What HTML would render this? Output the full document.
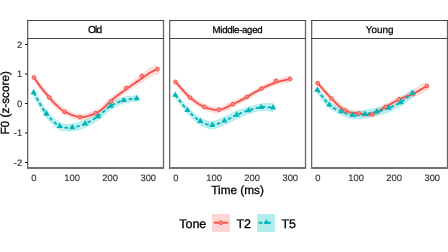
<!DOCTYPE html>
<html><head><meta charset="utf-8"><style>
html,body{margin:0;padding:0;background:#fff;}
body{width:448px;height:252px;overflow:hidden;}
svg{display:block;font-family:"Liberation Sans",Arial,sans-serif;text-rendering:geometricPrecision;}
</style></head><body>
<svg width="448" height="252" viewBox="0 0 448 252">
<path d="M32.67,78.26 L33.04,78.82 L33.52,79.54 L34.08,80.39 L34.71,81.36 L35.40,82.40 L36.13,83.50 L36.90,84.63 L37.68,85.76 L38.46,86.88 L39.24,87.94 L40.02,89.00 L40.84,90.08 L41.70,91.19 L42.57,92.32 L43.46,93.44 L44.35,94.56 L45.23,95.65 L46.10,96.72 L46.94,97.74 L47.74,98.71 L48.50,99.62 L49.23,100.50 L49.95,101.35 L50.65,102.18 L51.34,102.99 L52.04,103.78 L52.75,104.56 L53.47,105.33 L54.22,106.09 L54.97,106.83 L55.69,107.53 L56.37,108.22 L57.05,108.90 L57.76,109.58 L58.51,110.27 L59.32,110.97 L60.21,111.66 L61.19,112.35 L62.27,113.04 L63.45,113.71 L64.73,114.38 L66.13,115.09 L67.66,115.84 L69.28,116.60 L70.98,117.34 L72.74,118.04 L74.54,118.67 L76.37,119.19 L78.21,119.58 L80.05,119.79 L81.89,119.79 L83.73,119.61 L85.55,119.30 L87.33,118.88 L89.07,118.38 L90.74,117.83 L92.33,117.25 L93.83,116.68 L95.20,116.12 L96.46,115.61 L97.64,115.08 L98.73,114.52 L99.71,113.95 L100.60,113.35 L101.41,112.75 L102.16,112.15 L102.86,111.55 L103.53,110.95 L104.21,110.36 L104.94,109.74 L105.74,109.05 L106.55,108.30 L107.34,107.54 L108.11,106.77 L108.87,106.00 L109.62,105.24 L110.35,104.49 L111.08,103.77 L111.80,103.08 L112.51,102.43 L113.26,101.80 L114.01,101.18 L114.77,100.57 L115.54,99.97 L116.30,99.37 L117.08,98.79 L117.85,98.20 L118.62,97.63 L119.39,97.05 L120.16,96.48 L120.91,95.93 L121.66,95.39 L122.41,94.85 L123.15,94.33 L123.90,93.80 L124.65,93.28 L125.40,92.76 L126.16,92.23 L126.93,91.69 L127.69,91.15 L128.49,90.63 L129.28,90.11 L130.07,89.59 L130.86,89.07 L131.66,88.55 L132.45,88.03 L133.24,87.51 L134.03,87.00 L134.81,86.50 L135.60,86.00 L136.37,85.51 L137.15,85.03 L137.93,84.55 L138.72,84.07 L139.51,83.59 L140.30,83.11 L141.09,82.63 L141.90,82.14 L142.70,81.64 L143.52,81.12 L144.36,80.60 L145.19,80.07 L146.02,79.53 L146.83,79.00 L147.63,78.48 L148.42,77.97 L149.20,77.48 L149.96,77.02 L150.71,76.59 L151.44,76.20 L152.20,75.82 L153.05,75.42 L153.94,75.02 L154.86,74.63 L155.78,74.24 L156.66,73.88 L157.49,73.54 L158.24,73.24 L158.90,72.97 L159.42,72.75 L155.58,65.05 L155.14,65.31 L154.57,65.63 L153.87,66.02 L153.07,66.47 L152.20,66.97 L151.28,67.50 L150.33,68.05 L149.38,68.63 L148.45,69.21 L147.56,69.80 L146.71,70.40 L145.89,71.01 L145.09,71.63 L144.30,72.26 L143.53,72.89 L142.78,73.51 L142.04,74.12 L141.31,74.73 L140.59,75.31 L139.88,75.88 L139.15,76.42 L138.41,76.97 L137.67,77.52 L136.93,78.06 L136.18,78.61 L135.43,79.16 L134.68,79.71 L133.92,80.26 L133.17,80.83 L132.40,81.40 L131.65,81.98 L130.89,82.56 L130.13,83.15 L129.38,83.74 L128.62,84.33 L127.87,84.92 L127.13,85.50 L126.38,86.09 L125.64,86.67 L124.91,87.25 L124.15,87.79 L123.41,88.32 L122.66,88.85 L121.91,89.39 L121.16,89.92 L120.40,90.46 L119.64,91.01 L118.88,91.57 L118.11,92.14 L117.34,92.72 L116.57,93.30 L115.80,93.89 L115.02,94.48 L114.24,95.09 L113.45,95.70 L112.66,96.33 L111.87,96.96 L111.08,97.61 L110.28,98.28 L109.49,98.97 L108.67,99.68 L107.87,100.42 L107.08,101.18 L106.31,101.93 L105.55,102.68 L104.80,103.42 L104.06,104.13 L103.32,104.81 L102.60,105.45 L101.86,106.06 L101.10,106.68 L100.38,107.29 L99.71,107.85 L99.08,108.38 L98.45,108.86 L97.81,109.32 L97.14,109.75 L96.39,110.16 L95.54,110.57 L94.54,110.99 L93.34,111.46 L92.01,111.98 L90.59,112.51 L89.11,113.03 L87.60,113.51 L86.06,113.93 L84.55,114.27 L83.07,114.50 L81.66,114.62 L80.35,114.61 L79.03,114.46 L77.59,114.18 L76.07,113.76 L74.50,113.24 L72.92,112.63 L71.35,111.97 L69.82,111.27 L68.36,110.57 L66.99,109.90 L65.75,109.29 L64.69,108.76 L63.79,108.25 L62.98,107.74 L62.24,107.23 L61.55,106.69 L60.88,106.13 L60.21,105.54 L59.52,104.92 L58.79,104.25 L58.03,103.57 L57.28,102.90 L56.56,102.23 L55.86,101.55 L55.17,100.85 L54.47,100.14 L53.77,99.39 L53.06,98.62 L52.32,97.81 L51.56,96.97 L50.76,96.09 L49.93,95.17 L49.06,94.19 L48.16,93.18 L47.25,92.14 L46.32,91.07 L45.40,90.00 L44.50,88.93 L43.61,87.88 L42.77,86.85 L41.96,85.86 L41.18,84.86 L40.38,83.81 L39.57,82.73 L38.78,81.65 L38.02,80.59 L37.30,79.58 L36.63,78.65 L36.04,77.81 L35.54,77.10 L35.13,76.54Z" fill="#F8766D" fill-opacity="0.2" stroke="#F8766D" stroke-opacity="0.35" stroke-width="0.6"/>
<path d="M32.21,93.30 L32.93,94.61 L33.85,96.34 L34.93,98.42 L36.16,100.75 L37.49,103.25 L38.89,105.81 L40.32,108.36 L41.77,110.80 L43.19,113.06 L44.55,115.04 L45.86,116.80 L47.18,118.49 L48.52,120.11 L49.88,121.64 L51.26,123.09 L52.66,124.45 L54.06,125.71 L55.48,126.87 L56.91,127.92 L58.37,128.85 L59.90,129.60 L61.44,130.18 L62.97,130.59 L64.47,130.86 L65.94,131.00 L67.36,131.05 L68.73,131.03 L70.06,130.97 L71.36,130.88 L72.66,130.78 L74.05,130.62 L75.48,130.38 L76.90,130.09 L78.31,129.74 L79.71,129.35 L81.10,128.91 L82.48,128.43 L83.85,127.92 L85.20,127.39 L86.55,126.82 L87.90,126.20 L89.24,125.53 L90.57,124.83 L91.90,124.09 L93.21,123.32 L94.52,122.52 L95.83,121.69 L97.13,120.83 L98.43,119.94 L99.75,119.01 L101.11,117.99 L102.46,116.88 L103.78,115.74 L105.07,114.58 L106.34,113.42 L107.59,112.29 L108.81,111.22 L110.01,110.22 L111.17,109.32 L112.31,108.53 L113.49,107.80 L114.69,107.12 L115.89,106.48 L117.10,105.88 L118.30,105.32 L119.51,104.81 L120.72,104.33 L121.95,103.88 L123.17,103.47 L124.38,103.09 L125.62,102.78 L126.97,102.52 L128.40,102.29 L129.87,102.10 L131.34,101.93 L132.76,101.79 L134.08,101.67 L135.29,101.57 L136.34,101.47 L137.16,101.38 L136.44,95.42 L135.69,95.52 L134.71,95.63 L133.52,95.75 L132.16,95.89 L130.67,96.06 L129.11,96.26 L127.51,96.49 L125.90,96.77 L124.31,97.11 L122.82,97.51 L121.42,97.92 L120.05,98.36 L118.69,98.84 L117.32,99.35 L115.95,99.91 L114.58,100.52 L113.21,101.17 L111.84,101.88 L110.48,102.64 L109.09,103.47 L107.66,104.40 L106.26,105.43 L104.89,106.52 L103.55,107.65 L102.23,108.78 L100.94,109.90 L99.68,110.98 L98.44,112.00 L97.24,112.94 L96.05,113.79 L94.83,114.60 L93.58,115.40 L92.35,116.17 L91.12,116.91 L89.90,117.62 L88.68,118.28 L87.47,118.91 L86.26,119.51 L85.06,120.06 L83.85,120.58 L82.63,121.09 L81.41,121.58 L80.18,122.03 L78.97,122.45 L77.77,122.83 L76.57,123.17 L75.40,123.45 L74.24,123.69 L73.10,123.88 L71.94,124.02 L70.72,124.17 L69.52,124.31 L68.37,124.42 L67.28,124.49 L66.24,124.51 L65.23,124.46 L64.25,124.34 L63.27,124.12 L62.28,123.81 L61.23,123.35 L60.06,122.78 L58.82,122.07 L57.54,121.24 L56.21,120.27 L54.86,119.20 L53.50,118.01 L52.12,116.73 L50.75,115.35 L49.39,113.89 L48.05,112.36 L46.69,110.62 L45.24,108.57 L43.74,106.28 L42.22,103.86 L40.72,101.40 L39.29,99.00 L37.97,96.74 L36.78,94.71 L35.77,92.99 L34.99,91.70Z" fill="#00BFC4" fill-opacity="0.24" stroke="#00BFC4" stroke-opacity="0.35" stroke-width="0.6"/>
<path d="M174.48,82.90 L175.32,83.88 L176.39,85.17 L177.67,86.71 L179.11,88.45 L180.67,90.31 L182.30,92.22 L183.97,94.12 L185.63,95.94 L187.25,97.63 L188.78,99.10 L190.23,100.40 L191.68,101.63 L193.12,102.79 L194.57,103.89 L196.03,104.94 L197.49,105.91 L198.96,106.83 L200.44,107.68 L201.92,108.47 L203.41,109.20 L204.92,109.82 L206.43,110.40 L207.96,110.92 L209.49,111.38 L211.05,111.77 L212.61,112.08 L214.19,112.30 L215.78,112.44 L217.38,112.47 L219.01,112.39 L220.65,112.13 L222.26,111.73 L223.82,111.22 L225.34,110.63 L226.81,109.97 L228.26,109.27 L229.68,108.55 L231.07,107.84 L232.44,107.14 L233.82,106.47 L235.22,105.79 L236.64,105.07 L238.05,104.34 L239.46,103.58 L240.86,102.82 L242.27,102.04 L243.67,101.25 L245.08,100.45 L246.49,99.65 L247.91,98.84 L249.37,98.02 L250.83,97.17 L252.30,96.30 L253.76,95.42 L255.22,94.55 L256.68,93.68 L258.13,92.83 L259.56,92.01 L260.99,91.23 L262.40,90.49 L263.84,89.81 L265.28,89.14 L266.72,88.50 L268.15,87.88 L269.58,87.28 L271.01,86.70 L272.42,86.15 L273.84,85.63 L275.24,85.14 L276.64,84.68 L278.09,84.29 L279.64,83.92 L281.26,83.57 L282.90,83.24 L284.51,82.94 L286.07,82.66 L287.51,82.41 L288.81,82.18 L289.93,81.98 L290.80,81.82 L289.40,75.98 L288.59,76.22 L287.54,76.51 L286.27,76.86 L284.84,77.25 L283.29,77.69 L281.65,78.16 L279.99,78.66 L278.32,79.19 L276.70,79.75 L275.16,80.32 L273.69,80.87 L272.24,81.45 L270.78,82.05 L269.32,82.68 L267.87,83.33 L266.41,84.01 L264.96,84.71 L263.51,85.42 L262.06,86.16 L260.60,86.91 L259.11,87.67 L257.61,88.47 L256.11,89.30 L254.62,90.15 L253.14,91.02 L251.66,91.88 L250.20,92.73 L248.75,93.57 L247.31,94.38 L245.89,95.16 L244.45,95.91 L243.02,96.65 L241.59,97.39 L240.17,98.12 L238.77,98.83 L237.37,99.53 L235.97,100.21 L234.58,100.87 L233.19,101.50 L231.78,102.13 L230.35,102.78 L228.91,103.46 L227.50,104.14 L226.12,104.80 L224.77,105.41 L223.44,105.96 L222.15,106.42 L220.90,106.80 L219.69,107.06 L218.49,107.21 L217.27,107.29 L216.02,107.28 L214.74,107.19 L213.45,107.03 L212.13,106.78 L210.81,106.47 L209.47,106.09 L208.11,105.65 L206.75,105.15 L205.39,104.60 L204.01,104.04 L202.64,103.42 L201.26,102.73 L199.88,101.98 L198.49,101.16 L197.09,100.28 L195.68,99.33 L194.27,98.32 L192.84,97.24 L191.42,96.10 L189.94,94.81 L188.33,93.29 L186.65,91.61 L184.93,89.83 L183.24,88.03 L181.62,86.26 L180.11,84.60 L178.76,83.11 L177.61,81.85 L176.72,80.90Z" fill="#F8766D" fill-opacity="0.2" stroke="#F8766D" stroke-opacity="0.35" stroke-width="0.6"/>
<path d="M174.12,95.92 L174.81,96.86 L175.70,98.08 L176.76,99.55 L177.95,101.20 L179.24,102.96 L180.60,104.79 L181.99,106.62 L183.38,108.40 L184.74,110.07 L186.04,111.57 L187.26,112.97 L188.49,114.35 L189.74,115.69 L191.00,117.01 L192.27,118.28 L193.55,119.51 L194.84,120.68 L196.13,121.78 L197.44,122.81 L198.73,123.76 L200.03,124.59 L201.31,125.35 L202.60,126.06 L203.91,126.70 L205.24,127.28 L206.60,127.77 L207.99,128.18 L209.42,128.50 L210.87,128.70 L212.40,128.80 L213.98,128.68 L215.54,128.39 L217.02,127.98 L218.44,127.48 L219.80,126.93 L221.11,126.34 L222.38,125.75 L223.60,125.16 L224.77,124.62 L225.95,124.10 L227.20,123.53 L228.48,122.91 L229.74,122.27 L230.99,121.62 L232.22,120.97 L233.42,120.33 L234.61,119.71 L235.78,119.11 L236.93,118.54 L238.07,118.01 L239.22,117.50 L240.37,116.99 L241.50,116.50 L242.63,116.02 L243.76,115.56 L244.88,115.11 L246.01,114.68 L247.14,114.26 L248.29,113.85 L249.47,113.45 L250.69,113.07 L251.94,112.68 L253.19,112.30 L254.43,111.93 L255.68,111.58 L256.90,111.26 L258.11,110.98 L259.30,110.73 L260.45,110.53 L261.54,110.38 L262.66,110.38 L263.86,110.43 L265.12,110.54 L266.42,110.68 L267.70,110.85 L268.94,111.02 L270.11,111.20 L271.17,111.37 L272.12,111.50 L272.87,111.59 L273.33,103.61 L272.67,103.62 L271.82,103.61 L270.75,103.59 L269.53,103.57 L268.19,103.55 L266.76,103.56 L265.28,103.60 L263.79,103.68 L262.30,103.82 L260.86,104.02 L259.47,104.21 L258.09,104.45 L256.73,104.73 L255.36,105.05 L254.01,105.40 L252.67,105.78 L251.35,106.17 L250.05,106.56 L248.78,106.96 L247.53,107.35 L246.28,107.73 L245.03,108.13 L243.81,108.54 L242.59,108.96 L241.38,109.40 L240.18,109.85 L238.98,110.31 L237.78,110.79 L236.57,111.28 L235.33,111.79 L234.06,112.34 L232.79,112.92 L231.52,113.52 L230.27,114.13 L229.03,114.74 L227.81,115.34 L226.60,115.92 L225.41,116.48 L224.25,117.00 L223.05,117.50 L221.79,118.06 L220.52,118.66 L219.29,119.24 L218.11,119.80 L216.97,120.31 L215.89,120.75 L214.87,121.11 L213.92,121.37 L213.04,121.54 L212.20,121.60 L211.32,121.64 L210.38,121.60 L209.43,121.49 L208.44,121.31 L207.43,121.05 L206.38,120.71 L205.30,120.30 L204.19,119.81 L203.04,119.26 L201.87,118.64 L200.66,117.99 L199.43,117.25 L198.16,116.42 L196.87,115.50 L195.56,114.52 L194.23,113.47 L192.91,112.36 L191.58,111.22 L190.26,110.03 L188.96,108.83 L187.66,107.49 L186.27,105.97 L184.83,104.32 L183.38,102.59 L181.96,100.86 L180.59,99.18 L179.33,97.60 L178.20,96.18 L177.23,94.99 L176.48,94.08Z" fill="#00BFC4" fill-opacity="0.24" stroke="#00BFC4" stroke-opacity="0.35" stroke-width="0.6"/>
<path d="M316.48,84.09 L317.28,85.05 L318.31,86.29 L319.54,87.78 L320.92,89.45 L322.41,91.24 L323.97,93.10 L325.56,94.96 L327.13,96.77 L328.65,98.47 L330.07,100.00 L331.41,101.42 L332.73,102.83 L334.05,104.24 L335.38,105.63 L336.73,106.98 L338.08,108.29 L339.46,109.53 L340.87,110.69 L342.32,111.75 L343.81,112.70 L345.36,113.47 L346.92,114.07 L348.46,114.54 L349.98,114.90 L351.47,115.16 L352.93,115.36 L354.34,115.52 L355.72,115.66 L357.05,115.81 L358.34,115.98 L359.64,116.16 L360.97,116.38 L362.34,116.61 L363.73,116.83 L365.16,117.02 L366.62,117.17 L368.12,117.23 L369.65,117.20 L371.21,117.04 L372.79,116.73 L374.37,116.24 L375.89,115.60 L377.36,114.85 L378.78,114.03 L380.17,113.16 L381.53,112.26 L382.86,111.37 L384.16,110.49 L385.45,109.67 L386.74,108.90 L388.08,108.16 L389.45,107.39 L390.81,106.62 L392.17,105.85 L393.52,105.09 L394.87,104.34 L396.21,103.61 L397.56,102.90 L398.90,102.21 L400.23,101.57 L401.59,101.01 L402.96,100.49 L404.35,99.99 L405.77,99.51 L407.21,99.03 L408.66,98.55 L410.13,98.04 L411.61,97.51 L413.11,96.93 L414.60,96.30 L416.16,95.64 L417.79,94.91 L419.46,94.13 L421.13,93.33 L422.76,92.53 L424.31,91.76 L425.74,91.04 L427.01,90.40 L428.06,89.87 L428.88,89.47 L424.92,82.53 L424.12,83.05 L423.11,83.72 L421.93,84.52 L420.62,85.40 L419.20,86.35 L417.73,87.32 L416.23,88.30 L414.75,89.24 L413.32,90.12 L412.00,90.90 L410.71,91.56 L409.40,92.19 L408.05,92.80 L406.69,93.39 L405.29,93.98 L403.89,94.58 L402.46,95.19 L401.03,95.83 L399.60,96.51 L398.17,97.23 L396.74,97.95 L395.33,98.69 L393.94,99.45 L392.56,100.22 L391.19,101.01 L389.84,101.80 L388.49,102.58 L387.15,103.36 L385.82,104.13 L384.46,104.90 L383.06,105.69 L381.65,106.54 L380.28,107.41 L378.93,108.27 L377.62,109.09 L376.33,109.86 L375.08,110.53 L373.87,111.11 L372.72,111.56 L371.61,111.87 L370.50,112.07 L369.37,112.17 L368.21,112.17 L367.01,112.10 L365.78,111.96 L364.51,111.77 L363.20,111.55 L361.86,111.30 L360.47,111.05 L359.06,110.82 L357.63,110.66 L356.22,110.52 L354.86,110.40 L353.52,110.27 L352.23,110.12 L350.97,109.91 L349.74,109.65 L348.54,109.30 L347.36,108.86 L346.19,108.30 L344.97,107.63 L343.72,106.82 L342.43,105.88 L341.13,104.84 L339.80,103.69 L338.45,102.47 L337.09,101.20 L335.72,99.88 L334.32,98.53 L332.93,97.20 L331.47,95.78 L329.91,94.20 L328.28,92.50 L326.63,90.74 L325.00,88.97 L323.43,87.26 L321.98,85.67 L320.68,84.24 L319.58,83.03 L318.72,82.11Z" fill="#F8766D" fill-opacity="0.2" stroke="#F8766D" stroke-opacity="0.35" stroke-width="0.6"/>
<path d="M315.88,91.00 L316.55,91.93 L317.42,93.18 L318.46,94.69 L319.64,96.38 L320.91,98.19 L322.25,100.04 L323.63,101.87 L325.01,103.61 L326.37,105.20 L327.68,106.57 L328.96,107.74 L330.24,108.76 L331.52,109.67 L332.80,110.48 L334.06,111.21 L335.30,111.87 L336.52,112.47 L337.71,113.05 L338.86,113.60 L340.01,114.15 L341.17,114.73 L342.36,115.30 L343.57,115.85 L344.79,116.39 L346.03,116.90 L347.29,117.38 L348.57,117.81 L349.88,118.20 L351.22,118.52 L352.60,118.78 L354.01,118.91 L355.41,118.95 L356.78,118.92 L358.11,118.84 L359.42,118.71 L360.69,118.55 L361.93,118.37 L363.13,118.19 L364.31,118.02 L365.48,117.86 L366.68,117.66 L367.91,117.45 L369.13,117.23 L370.36,116.99 L371.59,116.74 L372.81,116.47 L374.04,116.20 L375.26,115.91 L376.49,115.60 L377.71,115.29 L378.93,114.95 L380.15,114.61 L381.37,114.25 L382.61,113.88 L383.85,113.50 L385.09,113.09 L386.33,112.67 L387.58,112.22 L388.83,111.75 L390.06,111.27 L391.26,110.76 L392.46,110.25 L393.66,109.73 L394.87,109.18 L396.09,108.60 L397.32,107.99 L398.56,107.35 L399.80,106.65 L401.05,105.91 L402.32,105.10 L403.66,104.18 L405.06,103.15 L406.48,102.04 L407.90,100.89 L409.29,99.74 L410.61,98.63 L411.83,97.59 L412.90,96.67 L413.79,95.91 L414.48,95.34 L410.72,90.66 L409.98,91.25 L409.03,92.01 L407.93,92.91 L406.70,93.90 L405.39,94.96 L404.02,96.03 L402.65,97.08 L401.30,98.07 L400.04,98.96 L398.88,99.70 L397.78,100.34 L396.66,100.94 L395.55,101.49 L394.43,102.02 L393.31,102.51 L392.18,102.98 L391.03,103.43 L389.88,103.87 L388.71,104.31 L387.54,104.73 L386.39,105.15 L385.24,105.54 L384.09,105.91 L382.93,106.27 L381.77,106.60 L380.60,106.93 L379.42,107.24 L378.25,107.54 L377.07,107.83 L375.89,108.11 L374.72,108.39 L373.57,108.66 L372.41,108.92 L371.25,109.16 L370.10,109.39 L368.95,109.60 L367.80,109.81 L366.65,110.00 L365.50,110.17 L364.32,110.34 L363.11,110.55 L361.90,110.77 L360.73,110.99 L359.58,111.19 L358.47,111.37 L357.39,111.51 L356.35,111.62 L355.34,111.67 L354.36,111.68 L353.40,111.62 L352.41,111.54 L351.39,111.40 L350.34,111.20 L349.27,110.96 L348.17,110.66 L347.06,110.32 L345.92,109.95 L344.77,109.54 L343.59,109.10 L342.39,108.65 L341.16,108.18 L339.95,107.74 L338.76,107.30 L337.61,106.85 L336.47,106.38 L335.35,105.86 L334.24,105.28 L333.13,104.63 L332.02,103.88 L330.92,103.03 L329.73,101.96 L328.42,100.62 L327.03,99.07 L325.61,97.41 L324.20,95.69 L322.84,93.99 L321.58,92.39 L320.45,90.94 L319.48,89.72 L318.72,88.80Z" fill="#00BFC4" fill-opacity="0.24" stroke="#00BFC4" stroke-opacity="0.35" stroke-width="0.6"/>
<path d="M33.90,77.40 L34.29,77.96 L34.78,78.68 L35.36,79.52 L36.00,80.47 L36.71,81.49 L37.46,82.57 L38.24,83.68 L39.03,84.78 L39.82,85.87 L40.60,86.90 L41.39,87.92 L42.23,88.98 L43.10,90.06 L43.99,91.16 L44.89,92.26 L45.80,93.35 L46.70,94.42 L47.58,95.46 L48.43,96.45 L49.25,97.40 L50.03,98.30 L50.78,99.16 L51.50,99.99 L52.21,100.79 L52.91,101.56 L53.61,102.32 L54.31,103.06 L55.02,103.78 L55.75,104.49 L56.50,105.20 L57.24,105.89 L57.95,106.57 L58.63,107.22 L59.32,107.86 L60.03,108.48 L60.78,109.10 L61.59,109.70 L62.49,110.30 L63.48,110.90 L64.60,111.50 L65.86,112.14 L67.24,112.83 L68.74,113.56 L70.31,114.28 L71.95,114.99 L73.62,115.64 L75.31,116.21 L76.98,116.68 L78.62,117.02 L80.20,117.20 L81.78,117.21 L83.40,117.06 L85.05,116.78 L86.70,116.40 L88.33,115.94 L89.93,115.43 L91.46,114.88 L92.92,114.33 L94.27,113.79 L95.50,113.30 L96.59,112.83 L97.56,112.34 L98.42,111.85 L99.21,111.33 L99.93,110.81 L100.62,110.26 L101.29,109.70 L101.96,109.12 L102.66,108.52 L103.40,107.90 L104.17,107.25 L104.94,106.56 L105.70,105.84 L106.45,105.10 L107.21,104.34 L107.96,103.59 L108.72,102.84 L109.48,102.10 L110.24,101.38 L111.00,100.70 L111.77,100.04 L112.54,99.40 L113.32,98.77 L114.10,98.15 L114.88,97.54 L115.66,96.94 L116.43,96.34 L117.21,95.76 L117.98,95.18 L118.75,94.60 L119.51,94.03 L120.27,93.48 L121.02,92.93 L121.78,92.39 L122.53,91.86 L123.28,91.33 L124.03,90.81 L124.78,90.28 L125.54,89.74 L126.30,89.20 L127.06,88.65 L127.83,88.10 L128.60,87.55 L129.37,86.99 L130.14,86.44 L130.91,85.88 L131.69,85.33 L132.46,84.78 L133.23,84.24 L134.00,83.70 L134.77,83.17 L135.54,82.65 L136.31,82.13 L137.08,81.61 L137.84,81.10 L138.61,80.59 L139.38,80.07 L140.15,79.55 L140.93,79.03 L141.70,78.50 L142.48,77.96 L143.25,77.40 L144.03,76.83 L144.80,76.25 L145.58,75.68 L146.36,75.11 L147.14,74.56 L147.93,74.02 L148.71,73.49 L149.50,73.00 L150.33,72.51 L151.22,72.02 L152.14,71.54 L153.07,71.06 L153.99,70.61 L154.87,70.18 L155.68,69.78 L156.41,69.44 L157.02,69.14 L157.50,68.90" fill="none" stroke="#F5514B" stroke-width="1.9" stroke-linejoin="round"/>
<path d="M33.60,92.50 L34.35,93.80 L35.31,95.52 L36.45,97.58 L37.73,99.88 L39.11,102.33 L40.55,104.84 L42.03,107.32 L43.51,109.68 L44.94,111.84 L46.30,113.70 L47.62,115.35 L48.96,116.92 L50.32,118.42 L51.69,119.83 L53.06,121.14 L54.43,122.36 L55.80,123.47 L57.15,124.47 L58.49,125.35 L59.80,126.10 L61.09,126.70 L62.36,127.15 L63.61,127.46 L64.85,127.66 L66.09,127.76 L67.32,127.77 L68.55,127.73 L69.79,127.64 L71.04,127.52 L72.30,127.40 L73.57,127.25 L74.86,127.04 L76.15,126.77 L77.44,126.45 L78.74,126.09 L80.04,125.68 L81.33,125.23 L82.63,124.75 L83.92,124.24 L85.20,123.70 L86.48,123.13 L87.75,122.52 L89.02,121.87 L90.29,121.19 L91.56,120.47 L92.82,119.72 L94.09,118.93 L95.36,118.12 L96.63,117.27 L97.90,116.40 L99.18,115.46 L100.45,114.44 L101.73,113.36 L103.01,112.24 L104.29,111.10 L105.57,109.97 L106.85,108.87 L108.13,107.83 L109.42,106.86 L110.70,106.00 L111.98,105.22 L113.27,104.50 L114.55,103.82 L115.84,103.20 L117.12,102.62 L118.41,102.08 L119.70,101.58 L121.00,101.12 L122.30,100.69 L123.60,100.30 L124.97,99.95 L126.43,99.65 L127.95,99.39 L129.49,99.18 L131.01,98.99 L132.46,98.84 L133.80,98.71 L135.00,98.60 L136.01,98.50 L136.80,98.40" fill="none" stroke="#00B5BA" stroke-width="1.9" stroke-dasharray="3.6 2.4" stroke-linejoin="round"/>
<path d="M175.60,81.90 L176.46,82.86 L177.58,84.14 L178.89,85.66 L180.37,87.36 L181.96,89.17 L183.62,91.03 L185.31,92.87 L186.98,94.62 L188.59,96.22 L190.10,97.60 L191.54,98.82 L192.97,99.97 L194.40,101.06 L195.83,102.09 L197.26,103.05 L198.69,103.95 L200.11,104.78 L201.54,105.55 L202.97,106.26 L204.40,106.90 L205.83,107.49 L207.27,108.02 L208.71,108.50 L210.15,108.92 L211.59,109.28 L213.03,109.55 L214.47,109.75 L215.90,109.86 L217.33,109.88 L218.75,109.80 L220.17,109.60 L221.58,109.27 L222.99,108.82 L224.39,108.29 L225.79,107.69 L227.19,107.03 L228.59,106.35 L229.99,105.65 L231.39,104.96 L232.80,104.30 L234.21,103.65 L235.61,102.97 L237.01,102.27 L238.41,101.56 L239.82,100.82 L241.22,100.08 L242.63,99.32 L244.05,98.55 L245.47,97.78 L246.90,97.00 L248.34,96.20 L249.79,95.37 L251.25,94.52 L252.71,93.65 L254.18,92.78 L255.65,91.92 L257.12,91.07 L258.58,90.24 L260.05,89.45 L261.50,88.70 L262.95,87.98 L264.40,87.28 L265.84,86.60 L267.28,85.94 L268.72,85.31 L270.16,84.69 L271.60,84.10 L273.04,83.54 L274.47,83.01 L275.90,82.50 L277.39,82.02 L278.98,81.56 L280.62,81.12 L282.28,80.70 L283.90,80.31 L285.45,79.96 L286.89,79.63 L288.17,79.35 L289.26,79.10 L290.10,78.90" fill="none" stroke="#F5514B" stroke-width="1.9" stroke-linejoin="round"/>
<path d="M175.30,95.00 L176.02,95.92 L176.95,97.13 L178.04,98.58 L179.27,100.19 L180.60,101.91 L181.99,103.69 L183.41,105.47 L184.83,107.19 L186.20,108.78 L187.50,110.20 L188.76,111.50 L190.03,112.78 L191.32,114.03 L192.62,115.24 L193.91,116.40 L195.21,117.51 L196.50,118.55 L197.78,119.52 L199.05,120.40 L200.30,121.20 L201.53,121.92 L202.75,122.58 L203.95,123.18 L205.15,123.71 L206.34,124.16 L207.52,124.54 L208.71,124.84 L209.90,125.05 L211.10,125.17 L212.30,125.20 L213.51,125.11 L214.73,124.88 L215.95,124.54 L217.17,124.12 L218.39,123.62 L219.61,123.07 L220.83,122.49 L222.06,121.91 L223.28,121.34 L224.50,120.80 L225.72,120.26 L226.95,119.69 L228.17,119.10 L229.40,118.48 L230.62,117.86 L231.85,117.23 L233.07,116.61 L234.29,116.01 L235.50,115.44 L236.70,114.90 L237.89,114.39 L239.07,113.89 L240.24,113.41 L241.41,112.94 L242.57,112.48 L243.73,112.04 L244.91,111.61 L246.09,111.19 L247.29,110.79 L248.50,110.40 L249.74,110.01 L251.00,109.62 L252.27,109.23 L253.55,108.85 L254.84,108.49 L256.13,108.16 L257.42,107.85 L258.70,107.59 L259.96,107.37 L261.20,107.20 L262.48,107.10 L263.82,107.06 L265.20,107.07 L266.59,107.12 L267.94,107.20 L269.24,107.30 L270.43,107.40 L271.49,107.49 L272.40,107.56 L273.10,107.60" fill="none" stroke="#00B5BA" stroke-width="1.9" stroke-dasharray="3.6 2.4" stroke-linejoin="round"/>
<path d="M317.60,83.10 L318.43,84.04 L319.50,85.27 L320.76,86.72 L322.18,88.36 L323.71,90.11 L325.30,91.92 L326.92,93.73 L328.52,95.48 L330.06,97.13 L331.50,98.60 L332.87,99.98 L334.22,101.35 L335.57,102.72 L336.92,104.05 L338.26,105.34 L339.60,106.56 L340.95,107.70 L342.29,108.75 L343.64,109.69 L345.00,110.50 L346.36,111.16 L347.73,111.69 L349.10,112.09 L350.48,112.40 L351.85,112.64 L353.22,112.82 L354.60,112.96 L355.97,113.09 L357.34,113.23 L358.70,113.40 L360.06,113.61 L361.41,113.84 L362.77,114.08 L364.12,114.30 L365.47,114.49 L366.82,114.63 L368.16,114.70 L369.51,114.68 L370.85,114.56 L372.20,114.30 L373.54,113.90 L374.88,113.35 L376.22,112.69 L377.56,111.94 L378.89,111.12 L380.23,110.27 L381.57,109.39 L382.91,108.52 L384.25,107.68 L385.60,106.90 L386.95,106.15 L388.30,105.38 L389.65,104.60 L391.00,103.83 L392.36,103.05 L393.71,102.28 L395.08,101.53 L396.44,100.79 L397.82,100.08 L399.20,99.40 L400.59,98.76 L402.00,98.16 L403.41,97.59 L404.83,97.04 L406.25,96.51 L407.67,95.97 L409.09,95.42 L410.50,94.85 L411.91,94.25 L413.30,93.60 L414.74,92.88 L416.27,92.07 L417.85,91.21 L419.43,90.32 L420.98,89.44 L422.46,88.58 L423.84,87.78 L425.06,87.06 L426.09,86.46 L426.90,86.00" fill="none" stroke="#F5514B" stroke-width="1.9" stroke-linejoin="round"/>
<path d="M317.30,89.90 L318.01,90.82 L318.93,92.06 L320.02,93.54 L321.24,95.19 L322.56,96.94 L323.93,98.72 L325.33,100.47 L326.71,102.11 L328.05,103.58 L329.30,104.80 L330.49,105.81 L331.69,106.70 L332.88,107.48 L334.07,108.17 L335.26,108.79 L336.45,109.36 L337.64,109.89 L338.83,110.39 L340.01,110.89 L341.20,111.40 L342.38,111.92 L343.56,112.42 L344.74,112.90 L345.92,113.36 L347.10,113.78 L348.28,114.17 L349.46,114.51 L350.64,114.80 L351.82,115.03 L353.00,115.20 L354.19,115.29 L355.37,115.31 L356.56,115.27 L357.75,115.18 L358.94,115.04 L360.14,114.87 L361.33,114.68 L362.52,114.48 L363.71,114.28 L364.90,114.10 L366.09,113.92 L367.28,113.72 L368.47,113.52 L369.66,113.30 L370.84,113.06 L372.03,112.82 L373.22,112.56 L374.41,112.28 L375.61,112.00 L376.80,111.70 L378.00,111.39 L379.20,111.07 L380.40,110.75 L381.60,110.40 L382.81,110.05 L384.01,109.68 L385.21,109.29 L386.41,108.88 L387.61,108.45 L388.80,108.00 L389.99,107.53 L391.17,107.06 L392.35,106.58 L393.52,106.08 L394.70,105.56 L395.88,105.00 L397.05,104.42 L398.23,103.79 L399.41,103.12 L400.60,102.40 L401.85,101.57 L403.18,100.61 L404.56,99.56 L405.96,98.46 L407.34,97.35 L408.65,96.27 L409.88,95.25 L410.96,94.34 L411.89,93.58 L412.60,93.00" fill="none" stroke="#00B5BA" stroke-width="1.9" stroke-dasharray="3.6 2.4" stroke-linejoin="round"/>
<circle cx="33.9" cy="77.4" r="1.9" fill="#F78A84" stroke="#F5514B" stroke-opacity="0.9" stroke-width="1.0"/>
<circle cx="49.25" cy="97.4" r="1.9" fill="#F78A84" stroke="#F5514B" stroke-opacity="0.9" stroke-width="1.0"/>
<circle cx="64.75" cy="111.9" r="1.9" fill="#F78A84" stroke="#F5514B" stroke-opacity="0.9" stroke-width="1.0"/>
<circle cx="79.9" cy="117.1" r="1.9" fill="#F78A84" stroke="#F5514B" stroke-opacity="0.9" stroke-width="1.0"/>
<circle cx="95.5" cy="113.25" r="1.9" fill="#F78A84" stroke="#F5514B" stroke-opacity="0.9" stroke-width="1.0"/>
<circle cx="110.9" cy="101.7" r="1.9" fill="#F78A84" stroke="#F5514B" stroke-opacity="0.9" stroke-width="1.0"/>
<circle cx="126.3" cy="88.0" r="1.9" fill="#F78A84" stroke="#F5514B" stroke-opacity="0.9" stroke-width="1.0"/>
<circle cx="141.8" cy="75.9" r="1.9" fill="#F78A84" stroke="#F5514B" stroke-opacity="0.9" stroke-width="1.0"/>
<circle cx="157.5" cy="69.1" r="1.9" fill="#F78A84" stroke="#F5514B" stroke-opacity="0.9" stroke-width="1.0"/>
<path d="M33.60,88.92 L36.70,94.29 L30.50,94.29Z" fill="#00B5BA"/>
<path d="M46.30,110.12 L49.40,115.49 L43.20,115.49Z" fill="#00B5BA"/>
<path d="M59.80,122.52 L62.90,127.89 L56.70,127.89Z" fill="#00B5BA"/>
<path d="M72.30,123.82 L75.40,129.19 L69.20,129.19Z" fill="#00B5BA"/>
<path d="M85.20,120.12 L88.30,125.49 L82.10,125.49Z" fill="#00B5BA"/>
<path d="M97.90,112.82 L101.00,118.19 L94.80,118.19Z" fill="#00B5BA"/>
<path d="M110.70,102.42 L113.80,107.79 L107.60,107.79Z" fill="#00B5BA"/>
<path d="M123.60,96.72 L126.70,102.09 L120.50,102.09Z" fill="#00B5BA"/>
<path d="M136.80,94.82 L139.90,100.19 L133.70,100.19Z" fill="#00B5BA"/>
<circle cx="175.6" cy="81.9" r="1.9" fill="#F78A84" stroke="#F5514B" stroke-opacity="0.9" stroke-width="1.0"/>
<circle cx="190.1" cy="97.6" r="1.9" fill="#F78A84" stroke="#F5514B" stroke-opacity="0.9" stroke-width="1.0"/>
<circle cx="204.4" cy="106.9" r="1.9" fill="#F78A84" stroke="#F5514B" stroke-opacity="0.9" stroke-width="1.0"/>
<circle cx="218.75" cy="109.75" r="1.9" fill="#F78A84" stroke="#F5514B" stroke-opacity="0.9" stroke-width="1.0"/>
<circle cx="232.8" cy="104.2" r="1.9" fill="#F78A84" stroke="#F5514B" stroke-opacity="0.9" stroke-width="1.0"/>
<circle cx="246.9" cy="97.0" r="1.9" fill="#F78A84" stroke="#F5514B" stroke-opacity="0.9" stroke-width="1.0"/>
<circle cx="261.5" cy="88.5" r="1.9" fill="#F78A84" stroke="#F5514B" stroke-opacity="0.9" stroke-width="1.0"/>
<circle cx="275.9" cy="80.7" r="1.9" fill="#F78A84" stroke="#F5514B" stroke-opacity="0.9" stroke-width="1.0"/>
<circle cx="290.1" cy="78.9" r="1.9" fill="#F78A84" stroke="#F5514B" stroke-opacity="0.9" stroke-width="1.0"/>
<path d="M175.30,91.42 L178.40,96.79 L172.20,96.79Z" fill="#00B5BA"/>
<path d="M187.50,106.62 L190.60,111.99 L184.40,111.99Z" fill="#00B5BA"/>
<path d="M200.30,117.62 L203.40,122.99 L197.20,122.99Z" fill="#00B5BA"/>
<path d="M212.30,121.62 L215.40,126.99 L209.20,126.99Z" fill="#00B5BA"/>
<path d="M224.50,117.22 L227.60,122.59 L221.40,122.59Z" fill="#00B5BA"/>
<path d="M236.70,111.32 L239.80,116.69 L233.60,116.69Z" fill="#00B5BA"/>
<path d="M248.50,106.82 L251.60,112.19 L245.40,112.19Z" fill="#00B5BA"/>
<path d="M261.20,103.62 L264.30,108.99 L258.10,108.99Z" fill="#00B5BA"/>
<path d="M273.10,104.02 L276.20,109.39 L270.00,109.39Z" fill="#00B5BA"/>
<circle cx="317.6" cy="83.1" r="1.9" fill="#F78A84" stroke="#F5514B" stroke-opacity="0.9" stroke-width="1.0"/>
<circle cx="331.5" cy="98.6" r="1.9" fill="#F78A84" stroke="#F5514B" stroke-opacity="0.9" stroke-width="1.0"/>
<circle cx="345" cy="110.5" r="1.9" fill="#F78A84" stroke="#F5514B" stroke-opacity="0.9" stroke-width="1.0"/>
<circle cx="358.7" cy="113.4" r="1.9" fill="#F78A84" stroke="#F5514B" stroke-opacity="0.9" stroke-width="1.0"/>
<circle cx="372.2" cy="114.3" r="1.9" fill="#F78A84" stroke="#F5514B" stroke-opacity="0.9" stroke-width="1.0"/>
<circle cx="385.6" cy="106.9" r="1.9" fill="#F78A84" stroke="#F5514B" stroke-opacity="0.9" stroke-width="1.0"/>
<circle cx="399.2" cy="99.4" r="1.9" fill="#F78A84" stroke="#F5514B" stroke-opacity="0.9" stroke-width="1.0"/>
<circle cx="413.3" cy="93.6" r="1.9" fill="#F78A84" stroke="#F5514B" stroke-opacity="0.9" stroke-width="1.0"/>
<circle cx="426.9" cy="86" r="1.9" fill="#F78A84" stroke="#F5514B" stroke-opacity="0.9" stroke-width="1.0"/>
<path d="M317.30,86.32 L320.40,91.69 L314.20,91.69Z" fill="#00B5BA"/>
<path d="M329.30,101.22 L332.40,106.59 L326.20,106.59Z" fill="#00B5BA"/>
<path d="M341.20,107.82 L344.30,113.19 L338.10,113.19Z" fill="#00B5BA"/>
<path d="M353.00,111.62 L356.10,116.99 L349.90,116.99Z" fill="#00B5BA"/>
<path d="M364.90,110.52 L368.00,115.89 L361.80,115.89Z" fill="#00B5BA"/>
<path d="M376.80,108.12 L379.90,113.49 L373.70,113.49Z" fill="#00B5BA"/>
<path d="M388.80,104.42 L391.90,109.79 L385.70,109.79Z" fill="#00B5BA"/>
<path d="M400.60,98.82 L403.70,104.19 L397.50,104.19Z" fill="#00B5BA"/>
<path d="M412.60,89.42 L415.70,94.79 L409.50,94.79Z" fill="#00B5BA"/>
<path d="M27.65,168.0 V19.9 M163.5,168.0 V19.9" fill="none" stroke="#666" stroke-width="1.3"/>
<path d="M27.049999999999997,20.5 H164.1 M27.049999999999997,38.5 H164.1" fill="none" stroke="#444" stroke-width="1.2"/>
<path d="M26.95,168.0 H164.2" fill="none" stroke="#707070" stroke-width="2.0"/>
<text x="95.08" y="33.3" font-size="10.2" fill="#000" stroke="#000" stroke-width="0.25" text-anchor="middle" textLength="14.4" lengthAdjust="spacing">Old</text>
<text x="33.95" y="180.6" font-size="9.4" fill="#333" stroke="#333" stroke-width="0.15" text-anchor="middle">0</text>
<text x="72.05" y="180.6" font-size="9.4" fill="#333" stroke="#333" stroke-width="0.15" text-anchor="middle">100</text>
<text x="110.15" y="180.6" font-size="9.4" fill="#333" stroke="#333" stroke-width="0.15" text-anchor="middle">200</text>
<text x="148.25" y="180.6" font-size="9.4" fill="#333" stroke="#333" stroke-width="0.15" text-anchor="middle">300</text>
<path d="M169.65,168.0 V19.9 M305.5,168.0 V19.9" fill="none" stroke="#666" stroke-width="1.3"/>
<path d="M169.05,20.5 H306.1 M169.05,38.5 H306.1" fill="none" stroke="#444" stroke-width="1.2"/>
<path d="M168.95000000000002,168.0 H306.2" fill="none" stroke="#707070" stroke-width="2.0"/>
<text x="237.57" y="32.9" font-size="9.6" fill="#000" stroke="#000" stroke-width="0.25" text-anchor="middle" textLength="50" lengthAdjust="spacing">Middle-aged</text>
<text x="175.95" y="180.6" font-size="9.4" fill="#333" stroke="#333" stroke-width="0.15" text-anchor="middle">0</text>
<text x="214.05" y="180.6" font-size="9.4" fill="#333" stroke="#333" stroke-width="0.15" text-anchor="middle">100</text>
<text x="252.15" y="180.6" font-size="9.4" fill="#333" stroke="#333" stroke-width="0.15" text-anchor="middle">200</text>
<text x="290.25" y="180.6" font-size="9.4" fill="#333" stroke="#333" stroke-width="0.15" text-anchor="middle">300</text>
<path d="M311.65,168.0 V19.9 M447.5,168.0 V19.9" fill="none" stroke="#666" stroke-width="1.3"/>
<path d="M311.04999999999995,20.5 H448.1 M311.04999999999995,38.5 H448.1" fill="none" stroke="#444" stroke-width="1.2"/>
<path d="M310.95,168.0 H448.2" fill="none" stroke="#707070" stroke-width="2.0"/>
<text x="379.57" y="32.9" font-size="9.9" fill="#000" stroke="#000" stroke-width="0.25" text-anchor="middle">Young</text>
<text x="317.95" y="180.6" font-size="9.4" fill="#333" stroke="#333" stroke-width="0.15" text-anchor="middle">0</text>
<text x="356.05" y="180.6" font-size="9.4" fill="#333" stroke="#333" stroke-width="0.15" text-anchor="middle">100</text>
<text x="394.15" y="180.6" font-size="9.4" fill="#333" stroke="#333" stroke-width="0.15" text-anchor="middle">200</text>
<text x="432.25" y="180.6" font-size="9.4" fill="#333" stroke="#333" stroke-width="0.15" text-anchor="middle">300</text>
<line x1="25" y1="44.50" x2="27.7" y2="44.50" stroke="#111" stroke-width="1"/>
<text x="22.2" y="47.90" font-size="9.4" fill="#333" stroke="#333" stroke-width="0.15" text-anchor="end">2</text>
<line x1="25" y1="74.00" x2="27.7" y2="74.00" stroke="#111" stroke-width="1"/>
<text x="22.2" y="77.40" font-size="9.4" fill="#333" stroke="#333" stroke-width="0.15" text-anchor="end">1</text>
<line x1="25" y1="103.50" x2="27.7" y2="103.50" stroke="#111" stroke-width="1"/>
<text x="22.2" y="106.90" font-size="9.4" fill="#333" stroke="#333" stroke-width="0.15" text-anchor="end">0</text>
<line x1="25" y1="133.00" x2="27.7" y2="133.00" stroke="#111" stroke-width="1"/>
<text x="22.2" y="136.40" font-size="9.4" fill="#333" stroke="#333" stroke-width="0.15" text-anchor="end">-1</text>
<line x1="25" y1="162.50" x2="27.7" y2="162.50" stroke="#111" stroke-width="1"/>
<text x="22.2" y="165.90" font-size="9.4" fill="#333" stroke="#333" stroke-width="0.15" text-anchor="end">-2</text>
<text x="237.6" y="194.4" font-size="11.8" fill="#000" stroke="#000" stroke-width="0.3" text-anchor="middle">Time (ms)</text>
<text transform="translate(9.4,102.8) rotate(-90)" font-size="11.8" fill="#000" stroke="#000" stroke-width="0.3" text-anchor="middle">F0 (z-score)</text>
<text x="179.2" y="227.7" font-size="12.5" fill="#000" stroke="#000" stroke-width="0.3">Tone</text>
<rect x="212" y="214" width="18" height="18" fill="#F8766D" fill-opacity="0.3"/>
<line x1="213.8" y1="222.7" x2="228.2" y2="222.7" stroke="#F5514B" stroke-width="1.9"/>
<circle cx="221" cy="222.7" r="1.9" fill="#F78A84" stroke="#F5514B" stroke-opacity="0.9" stroke-width="1.0"/>
<text x="236.4" y="227.7" font-size="12.5" fill="#000" stroke="#000" stroke-width="0.3">T2</text>
<rect x="257" y="214" width="18" height="18" fill="#00BFC4" fill-opacity="0.3"/>
<path d="M258.8,222.8 H262.4 M264.4,222.8 H271.0" stroke="#00B5BA" stroke-width="1.9"/>
<path d="M266.40,219.17 L269.20,224.02 L263.60,224.02Z" fill="#00B5BA"/>
<text x="281.4" y="227.7" font-size="12.5" fill="#000" stroke="#000" stroke-width="0.3">T5</text>
</svg>
</body></html>
